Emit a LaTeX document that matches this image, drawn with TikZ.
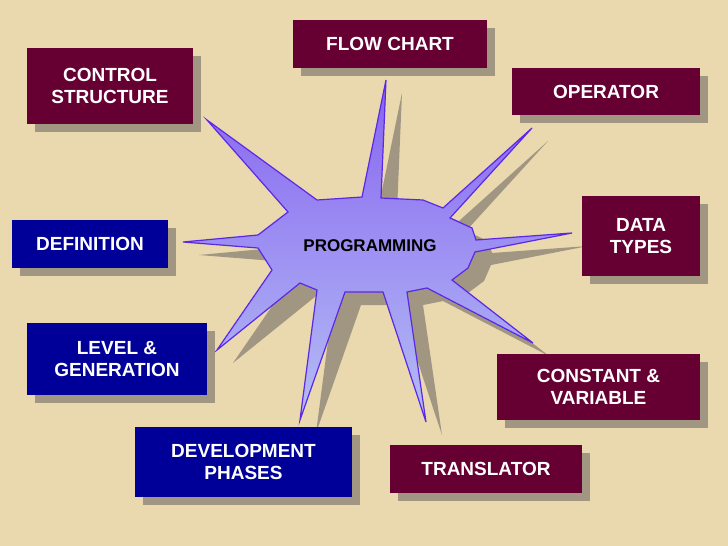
\documentclass[tikz,border=0pt]{standalone}
\usepackage{fontspec}
\setmainfont{Liberation Sans}
\definecolor{bg}{RGB}{234,216,174}
\definecolor{mar}{RGB}{102,0,51}
\definecolor{blu}{RGB}{0,0,153}
\definecolor{shd}{RGB}{160,150,130}
\definecolor{stroke}{RGB}{90,40,230}
\tikzset{
  lbl/.style={text=white,font=\bfseries\fontsize{19}{22}\selectfont,align=center},
  boxm/.style={fill=mar},
  boxb/.style={fill=blu}
}
\newcommand{\cbox}[7]{%
  \fill[shd] (#1+8,#2+8) rectangle (#3+8,#4+8);
  \fill[#5] (#1,#2) rectangle (#3,#4);
  \node[lbl] (#6) at ({(#1+#3)/2},{(#2+#4)/2}) {#7};
}
\begin{document}
\begin{tikzpicture}[x=1pt,y=-1pt]
\fill[bg] (0,0) rectangle (728,546);
\useasboundingbox (0,0) rectangle (728,546);
\def\starpath{(207,120) -- (317,200) -- (362,197) -- (386,80) -- (381,198) -- (423,200) -- (443,208) -- (532,128) -- (450,218) -- (472,228) -- (476,240) -- (572,233) -- (475,252) -- (468,268) -- (452,280) -- (533,343) -- (427,288) -- (407,292) -- (426,422) -- (383,292) -- (345,292) -- (300,420) -- (317,290) -- (300,283) -- (217,350) -- (272,270) -- (258,248) -- (183,242) -- (258,235) -- (288,212) -- cycle}
\begin{scope}[shift={(16,13)}]
\fill[shd] \starpath;
\end{scope}
\shade[top color={rgb,255:red,135;green,100;blue,240},bottom color={rgb,255:red,180;green,190;blue,245},draw=stroke,line width=1.2pt] \starpath;
\node[font=\bfseries\fontsize{17}{20}\selectfont] (prog) at (370,246) {PROGRAMMING};
\cbox{293}{20}{487}{68}{mar}{flow}{FLOW CHART}
\cbox{27}{48}{193}{124}{mar}{ctrl}{CONTROL\\STRUCTURE}
\cbox{512}{68}{700}{115}{mar}{oper}{OPERATOR}
\cbox{12}{220}{168}{268}{blu}{defn}{DEFINITION}
\cbox{582}{196}{700}{276}{mar}{data}{DATA\\TYPES}
\cbox{27}{323}{207}{395}{blu}{level}{LEVEL \&\\GENERATION}
\cbox{497}{354}{700}{420}{mar}{const}{CONSTANT \&\\VARIABLE}
\cbox{135}{427}{352}{497}{blu}{dev}{DEVELOPMENT\\PHASES}
\cbox{390}{445}{582}{493}{mar}{trans}{TRANSLATOR}
\end{tikzpicture}
\end{document}
